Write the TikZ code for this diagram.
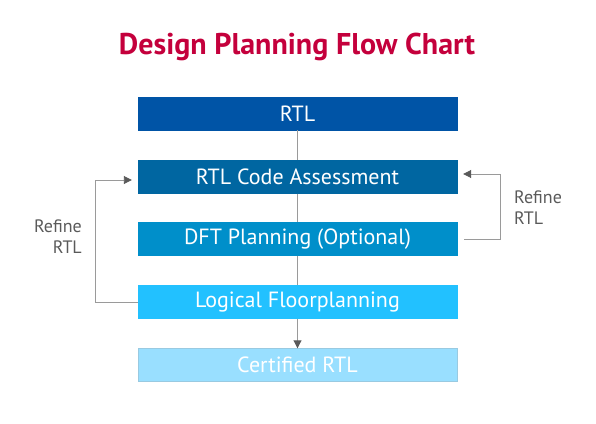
\documentclass[tikz,border=0pt]{standalone}
\usepackage{fontspec}
\setmainfont{PT Sans}
\usetikzlibrary{arrows.meta, positioning}
\definecolor{Crimson}{HTML}{C4003C}
\definecolor{BlueA}  {HTML}{0054A6}
\definecolor{BlueB}  {HTML}{0066A1}
\definecolor{BlueC}  {HTML}{008FCA}
\definecolor{BlueD}  {HTML}{22C1FF}
\definecolor{BlueE}  {HTML}{99DFFF}
\definecolor{LGray}  {HTML}{9A9A9A}
\definecolor{MGray}  {HTML}{5A5A5A}
\tikzset{
  blk/.style args={#1}{
    rectangle, draw=#1, fill=#1, text=white,
    font=\fontsize{22}{24}\selectfont, align=center,
    inner sep=0pt, minimum width=319pt, minimum height=33pt,
  },
  lnk/.style={line width=0.9pt, color=LGray},
  arr/.style={
    line width=0.9pt, color=LGray, arrows={-{Triangle[length=8pt,width=8pt,color=MGray]}},
  },
  lbl/.style={
    font=\fontsize{18}{21}\selectfont, text=MGray, inner sep=0pt,
  },
}
\begin{document}
\begin{tikzpicture}[x=1pt,y=-1pt]
  \useasboundingbox (0,0) rectangle (596,423);
  % title
  \node[font=\fontsize{30}{32}\selectfont\bfseries, text=Crimson] (title) at (297,47) {Design Planning Flow Chart};
  % flow boxes
  \node[blk=BlueA] (rtl)  at (297.5,113.5) {RTL};
  \node[blk=BlueB] (code) at (297.5,177)   {RTL Code Assessment};
  \node[blk=BlueC] (dft)  at (297.5,239)   {DFT Planning (Optional)};
  \node[blk=BlueD] (flp)  at (297.5,302)   {Logical Floorplanning};
  \node[blk=BlueE, draw=BlueE!70!LGray] (cert) at (297.5,365) {Certified RTL};
  % main line
  \draw[lnk] (rtl) -- (code);
  \draw[lnk] (code) -- (dft);
  \draw[lnk] (dft) -- (flp);
  \draw[arr] (flp) -- (cert);
  % refine loops
  \coordinate (lc) at (95,0);
  \coordinate (rc) at (500,0);
  \draw[arr] (flp.west) -- (flp.west -| lc) -- ([yshift=-3pt]code.west -| lc) -- ([xshift=-6pt,yshift=-3pt]code.west);
  \draw[arr] ([xshift=7pt]dft.east) -- (dft.east -| rc) -- ([yshift=3pt]code.east -| rc) -- ([xshift=6pt,yshift=3pt]code.east);
  \node[lbl, align=right, anchor=east] (lref) at (82,237) {Refine\\RTL};
  \node[lbl, align=left, anchor=west] (rref) at (514,208) {Refine\\RTL};
\end{tikzpicture}
\end{document}
